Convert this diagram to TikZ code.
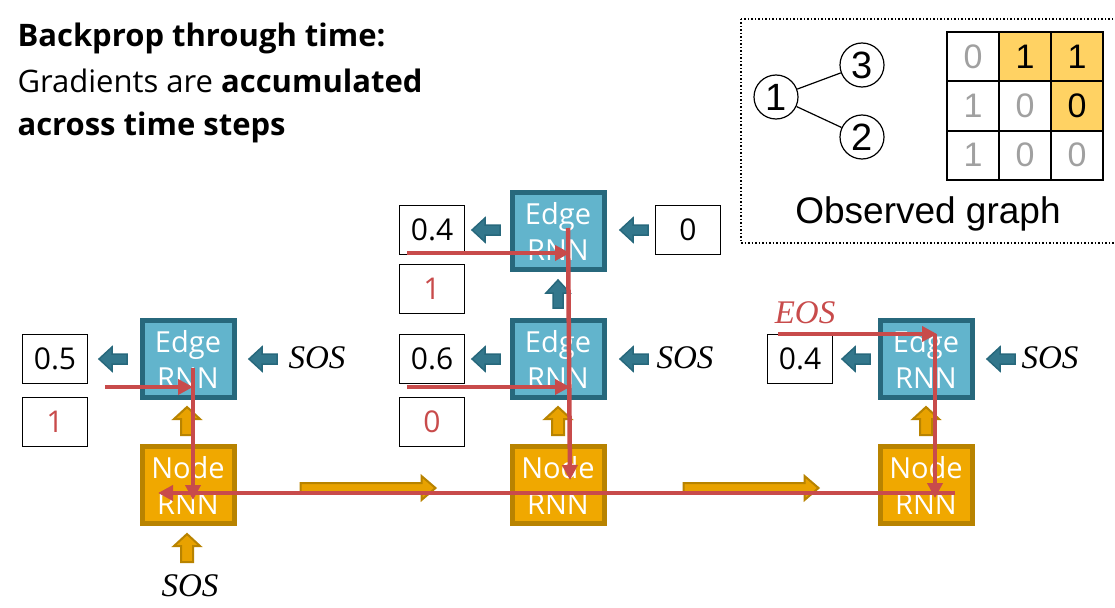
\documentclass[tikz,border=0pt]{standalone}
\usepackage{fontspec}
\setmainfont{Open Sans}
\newfontfamily\hv{Liberation Sans}
\newfontfamily\sr{Liberation Serif}
\usetikzlibrary{arrows.meta}
\definecolor{efill}{HTML}{62B4CC}
\definecolor{edraw}{HTML}{27687C}
\definecolor{nfill}{HTML}{F0A800}
\definecolor{ndraw}{HTML}{B88300}
\definecolor{rd}{HTML}{C84B4B}
\definecolor{gy}{HTML}{A0A0A0}
\definecolor{ylw}{HTML}{FFD263}
\newcommand\blk[8]{% x,y,rot,L,b,h,k,style
 \begin{scope}[shift={(#1,#2)},rotate=#3]
 \draw[#8] (-#4/2,-#5) -- (#4/2-#7,-#5) -- (#4/2-#7,-#6) -- (#4/2,0) -- (#4/2-#7,#6) -- (#4/2-#7,#5) -- (-#4/2,#5) -- cycle;
 \end{scope}}
\begin{document}
\begin{tikzpicture}[x=1pt,y=-1pt,
 rnn/.style={minimum width=92pt,minimum height=77pt,line width=5pt,inner sep=0pt,align=center,text=white,font=\fontsize{29}{36}\selectfont},
 erb/.style={rnn,fill=efill,draw=edraw},
 nrb/.style={rnn,fill=nfill,draw=ndraw},
 val/.style={draw,line width=1.2pt,minimum width=65pt,minimum height=49pt,inner sep=0pt,font=\fontsize{30}{34}\selectfont},
 rval/.style={val,text=rd},
 tsty/.style={fill=edraw!80!efill,draw=edraw,line width=1.5pt,line join=miter},
 gsty/.style={fill=nfill!85!ndraw,draw=ndraw,line width=2pt,line join=miter},
 sos/.style={font=\sr\itshape\fontsize{33}{36}\selectfont},
 bp/.style={rd,line width=4.5pt,-{Triangle[length=15pt,width=15pt]}},
 cir/.style={circle,draw,line width=1.2pt,minimum size=44pt,inner sep=0pt,font=\hv\fontsize{38}{40}\selectfont},
 cell/.style={draw,line width=2pt,minimum width=52pt,minimum height=49pt,inner sep=0pt,font=\hv\fontsize{34}{36}\selectfont,text=gy}]
\useasboundingbox (0,0) rectangle (1115,607);
% title
\node[anchor=west,font=\bfseries\fontsize{31}{36}\selectfont] (t1) at (14,38) {Backprop through time:};
\node[anchor=west,font=\fontsize{31}{36}\selectfont] (t2) at (14,81) {Gradients are \textbf{accumulated}};
\node[anchor=west,font=\bfseries\fontsize{31}{36}\selectfont] (t3) at (14,127) {across time steps};
% observed graph
\draw[dotted,line width=1.5pt] (741,19) rectangle (1116,243);
\node[cir] (c1) at (776,97) {1};
\node[cir] (c3) at (862,65) {3};
\node[cir] (c2) at (862,137) {2};
\draw[line width=1.2pt] (c1) -- (c3) (c1) -- (c2);
\node[cell] (m11) at (973,57) {0};
\node[cell,fill=ylw,text=black] (m12) at (1025,57) {1};
\node[cell,fill=ylw,text=black] (m13) at (1077,57) {1};
\node[cell] (m21) at (973,106) {1};
\node[cell] (m22) at (1025,106) {0};
\node[cell,fill=ylw,text=black] (m23) at (1077,106) {0};
\node[cell] (m31) at (973,155) {1};
\node[cell] (m32) at (1025,155) {0};
\node[cell] (m33) at (1077,155) {0};
\node[font=\hv\fontsize{37}{40}\selectfont] (og) at (928,214) {Observed graph};
% column 1
\node[erb] (e1) at (188,359) {Edge\\RNN};
\node[nrb] (n1) at (188,485) {Node\\RNN};
\node[val] (v1) at (55,359) {0.5};
\node[rval] (r1) at (55,422) {1};
\blk{113}{359}{180}{28}{5}{12}{13}{tsty}
\blk{263}{359}{180}{28}{5}{12}{13}{tsty}
\node[sos] (s1) at (317,358) {SOS};
\blk{187}{421}{90}{28}{6}{13}{12}{gsty}
\blk{187}{548}{90}{28}{6}{13}{12}{gsty}
\node[sos] (s1b) at (190,586) {SOS};
% column 2
\node[erb] (e2t) at (558,231) {Edge\\RNN};
\node[erb] (e2) at (558,359) {Edge\\RNN};
\node[nrb] (n2) at (558,485) {Node\\RNN};
\node[val] (v2t) at (432,230) {0.4};
\node[rval] (r2t) at (432,289) {1};
\node[val] (v2) at (432,359) {0.6};
\node[rval] (r2) at (432,422) {0};
\node[val] (z2) at (688,230) {0};
\blk{486}{230}{180}{28}{5}{12}{13}{tsty}
\blk{634}{230}{180}{28}{5}{12}{13}{tsty}
\blk{486}{359}{180}{28}{5}{12}{13}{tsty}
\blk{634}{359}{180}{28}{5}{12}{13}{tsty}
\node[sos] (s2) at (685,358) {SOS};
\blk{558}{294}{90}{28}{5}{12}{13}{tsty}
\blk{558}{421}{90}{28}{6}{13}{12}{gsty}
% column 3
\node[erb] (e3) at (926,359) {Edge\\RNN};
\node[nrb] (n3) at (926,485) {Node\\RNN};
\node[val] (v3) at (800,359) {0.4};
\blk{856}{359}{180}{28}{5}{12}{13}{tsty}
\blk{1001}{359}{180}{28}{5}{12}{13}{tsty}
\node[sos] (s3) at (1050,358) {SOS};
\node[sos,text=rd] (eos) at (805,313) {EOS};
\blk{926}{421}{90}{28}{6}{13}{12}{gsty}
% long arrows
\blk{368}{488}{0}{135}{5}{12}{14}{gsty}
\blk{751}{488}{0}{135}{5}{12}{14}{gsty}
% backprop
\coordinate (p1) at (105,387); \coordinate (q1) at (193,387);
\coordinate (p2) at (193,368); \coordinate (q2) at (193,500);
\coordinate (p3) at (955,493); \coordinate (q3) at (158,493);
\coordinate (p4) at (407,253); \coordinate (q4) at (570,253);
\coordinate (p5) at (568,228); \coordinate (q5) at (570,480);
\coordinate (p6) at (407,387); \coordinate (q6) at (570,387);
\coordinate (p7) at (778,334); \coordinate (q7) at (937,334);
\coordinate (p8) at (935,334); \coordinate (q8) at (935,498);
\draw[bp] (p1) -- (q1);
\draw[bp] (p2) -- (q2);
\draw[bp] (p4) -- (q4);
\draw[bp] (p5) -- (q5);
\draw[bp] (p6) -- (q6);
\draw[bp] (p7) -- (q7);
\draw[bp] (p8) -- (q8);
\draw[bp] (p3) -- (q3);
\end{tikzpicture}
\end{document}
